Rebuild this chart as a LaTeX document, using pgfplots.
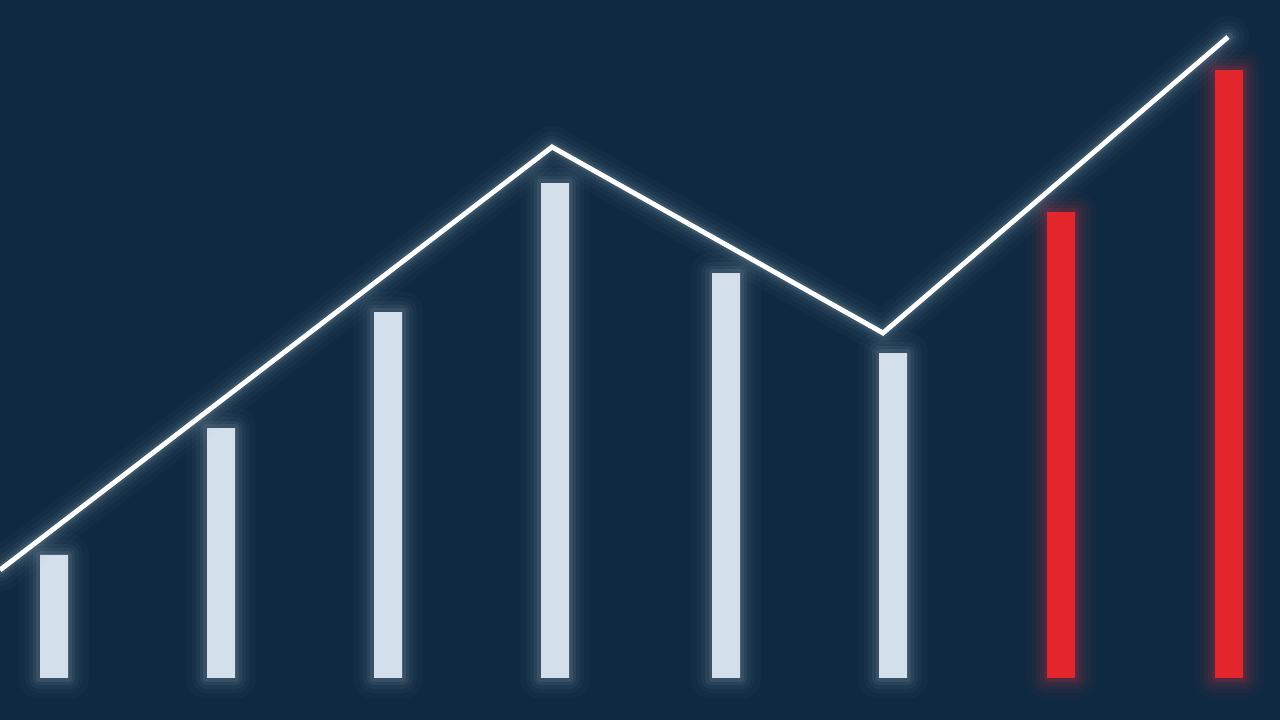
\documentclass[border=0pt]{standalone}
\usepackage{pgfplots}
\pgfplotsset{compat=1.18}
\definecolor{bg}{HTML}{0F2A40}
\definecolor{barlight}{HTML}{D3E0EC}
\definecolor{barred}{HTML}{E3262B}
\definecolor{glowb}{HTML}{9FB6CC}
\definecolor{glowr}{HTML}{D03040}
\pgfplotstableread{
x h
54 123
221 250
388 366
555 495
726 405
893 325
}\lightbars
\pgfplotstableread{
x h
1061 466
1229 608
}\redbars
\pgfplotstableread{
x y
0 108
552 531
883 345
1228 641
}\trend
\begin{document}
\begin{tikzpicture}
\fill[bg] (0,0) rectangle (12.8cm,7.2cm);
\begin{axis}[
  at={(0,0)}, anchor=south west,
  width=12.8cm, height=7.2cm, scale only axis,
  xmin=0, xmax=1280, ymin=-42, ymax=678,
  hide axis, clip=true,
  ybar, bar width=28, bar shift=0pt,
  lg/.style={draw=glowb, fill=none, line join=round},
  rg/.style={draw=glowr, fill=none, line join=round},
  tg/.style={sharp plot, draw=glowb, line join=round, line cap=round},
]
% glow for bars
\addplot[lg, line width=12pt, opacity=0.03] table[x=x,y=h] {\lightbars};
\addplot[lg, line width=8.5pt, opacity=0.04] table[x=x,y=h] {\lightbars};
\addplot[lg, line width=6pt, opacity=0.06] table[x=x,y=h] {\lightbars};
\addplot[lg, line width=4pt, opacity=0.08] table[x=x,y=h] {\lightbars};
\addplot[lg, line width=2pt, opacity=0.12] table[x=x,y=h] {\lightbars};
\addplot[rg, line width=12pt, opacity=0.03] table[x=x,y=h] {\redbars};
\addplot[rg, line width=8.5pt, opacity=0.05] table[x=x,y=h] {\redbars};
\addplot[rg, line width=6pt, opacity=0.07] table[x=x,y=h] {\redbars};
\addplot[rg, line width=4pt, opacity=0.10] table[x=x,y=h] {\redbars};
\addplot[rg, line width=2pt, opacity=0.14] table[x=x,y=h] {\redbars};
\addplot[draw=none, fill=barlight] table[x=x,y=h] {\lightbars};
\addplot[draw=none, fill=barred] table[x=x,y=h] {\redbars};
% trend line glow
\addplot[tg, line width=12pt, opacity=0.03] table[x=x,y=y] {\trend};
\addplot[tg, line width=9pt, opacity=0.04] table[x=x,y=y] {\trend};
\addplot[tg, line width=6.5pt, opacity=0.06] table[x=x,y=y] {\trend};
\addplot[tg, line width=4.5pt, opacity=0.08] table[x=x,y=y] {\trend};
\addplot[tg, line width=2.8pt, opacity=0.14] table[x=x,y=y] {\trend};
\addplot[sharp plot, draw=white, line width=1.4pt, line join=miter] table[x=x,y=y] {\trend};
\end{axis}
\end{tikzpicture}
\end{document}
